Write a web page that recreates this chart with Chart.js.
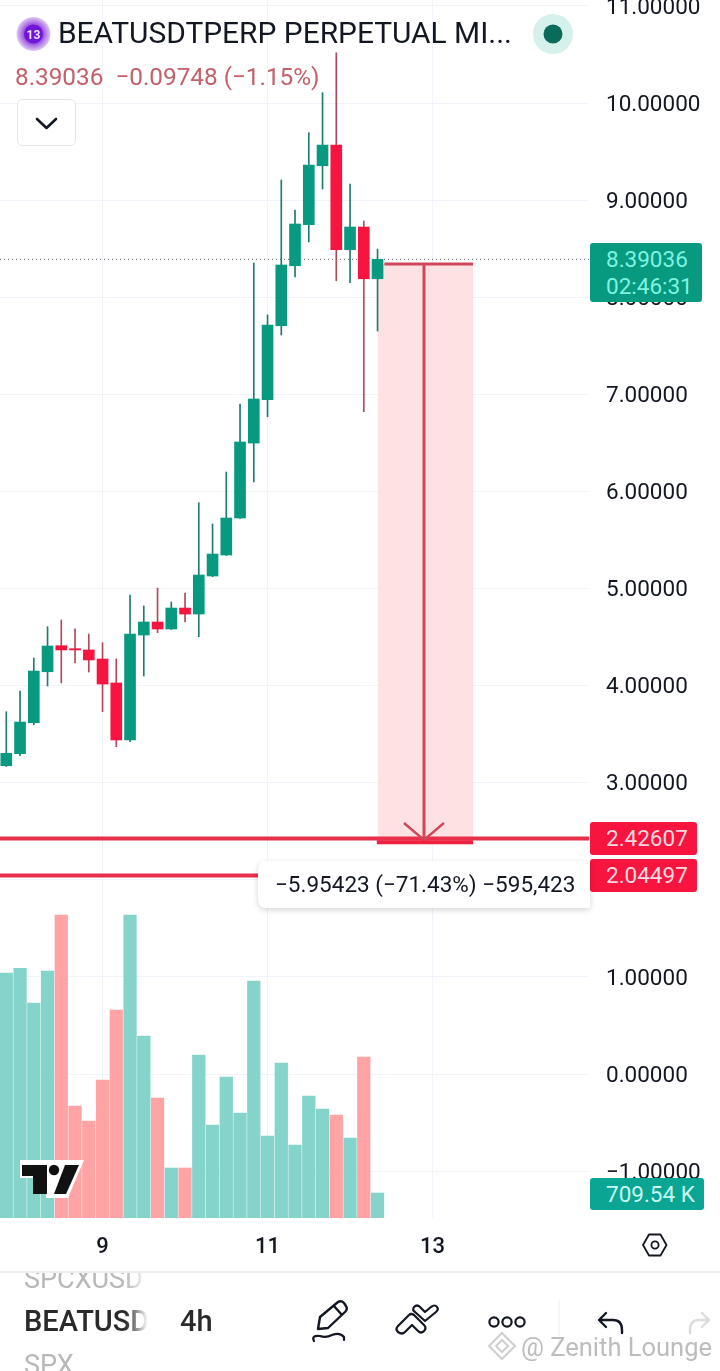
<!DOCTYPE html>
<html>
<head>
<meta charset="utf-8">
<script src="https://cdn.jsdelivr.net/npm/chart.js@4"></script>
<style>
html,body{margin:0;padding:0;background:#fff;width:720px;height:1371px;overflow:hidden;font-family:Roboto,sans-serif;color:#131722}
#wrap{position:absolute;left:0;top:0;width:720px;height:1272px}
canvas{display:block}
.t{position:absolute;white-space:nowrap;line-height:1}
.tag{position:absolute;left:590px;border-radius:3px;color:#fff;text-align:left;box-sizing:border-box;padding-left:16px}
#icons{position:absolute;left:0;top:0}
</style>
</head>
<body>
<div id="wrap"><canvas id="c" width="720" height="1272"></canvas></div>

<svg id="icons" width="720" height="1371" viewBox="0 0 720 1371" fill="none">
  <defs><radialGradient id="g"><stop offset="0.55" stop-color="#9a4fe0"/><stop offset="1" stop-color="#e0c8f5"/></radialGradient></defs>
  <circle cx="33.5" cy="34" r="17" fill="url(#g)"/>
  <circle cx="33.5" cy="34" r="9.5" fill="#6f16d8"/>
  <text x="33.5" y="38.5" text-anchor="middle" font-family="Roboto" font-size="12" font-weight="700" fill="#efe3ff">13</text>
  <circle cx="553" cy="34" r="20" fill="#d6f0ec"/>
  <circle cx="553" cy="34" r="9.5" fill="#0b6b5a"/>
  <rect x="17.5" y="99.5" width="58" height="46" rx="5" fill="#fff" stroke="#e3e4e8"/>
  <path d="M37 119 L46.5 128 L56 119" stroke="#131722" stroke-width="2.6" stroke-linecap="round" stroke-linejoin="round"/>
  <path d="M20 1160 H84 L68 1198 H46 V1178 H20 Z" fill="#fff"/>
  <path d="M22 1165 H47 V1194 H33 V1176 H22 Z" fill="#111"/>
  <circle cx="54" cy="1170" r="5.2" fill="#111"/>
  <path d="M65 1165 H79 L66 1194 H54 Z" fill="#111"/>
  <path d="M643 1245 L649 1234.5 H660.5 L666.5 1245 L660.5 1255.5 H649 Z" stroke="#131722" stroke-width="1.8" stroke-linejoin="round"/>
  <circle cx="655" cy="1245" r="3.6" stroke="#131722" stroke-width="1.8"/>
  <rect x="0" y="1271" width="720" height="2" fill="#eeeeee"/>
  <rect x="558.5" y="1300" width="1" height="46" fill="#eeeeee"/>
  <path d="M318 1329 L320 1317 L338 1302 Q341 1300 344 1303 L346 1306 Q348 1309 345 1312 L328 1328 Z M334 1306 L342 1315" stroke="#131722" stroke-width="2.4" stroke-linejoin="round"/>
  <path d="M314 1341 Q311 1335 320 1336 Q326 1338 332 1335 Q340 1332 344 1337 L344 1340" stroke="#131722" stroke-width="2.2" stroke-linecap="round"/>
  <path d="M398 1326 L409 1315 Q411 1313 414 1315 L424 1325 Q427 1328 424 1331 Q421 1334 418 1331 L412 1325 L405 1332 Q402 1335 398 1332 Q395 1329 398 1326 Z" stroke="#131722" stroke-width="2.2" stroke-linejoin="round"/>
  <path d="M415 1312 L425 1321 L436 1312 Q439 1309 437 1307 Q435 1304 431 1307 L425 1312 L420 1307 Q417 1304 414 1307 Q412 1310 415 1312 Z" stroke="#131722" stroke-width="2.2" stroke-linejoin="round"/>
  <circle cx="494" cy="1322" r="4.6" stroke="#131722" stroke-width="2.2"/>
  <circle cx="507" cy="1322" r="4.6" stroke="#131722" stroke-width="2.2"/>
  <circle cx="520" cy="1322" r="4.6" stroke="#131722" stroke-width="2.2"/>
  <path d="M606 1313 L599 1320 L606 1327 M600 1320 H613 Q622 1320 622 1330 V1333" stroke="#131722" stroke-width="2.4" stroke-linecap="round" stroke-linejoin="round"/>
  <path d="M702 1313 L709 1320 L702 1327 M708 1320 H699 Q690 1320 690 1330 V1333" stroke="#dcdcdc" stroke-width="2.4" stroke-linecap="round" stroke-linejoin="round"/>
  <path d="M502 1333 L515 1346 L502 1359 L489 1346 Z M502 1340 L508 1346 L502 1352 L496 1346 Z" stroke="#cfcfcf" stroke-width="2"/>
</svg>

<div class="t" style="left:58px;top:18px;font-size:29.9px;width:460px;overflow:hidden">BEATUSDTPERP PERPETUAL MI...</div>
<div class="t" style="left:15px;top:65px;font-size:24.3px;color:#c4606a;white-space:pre">8.39036  −0.09748 (−1.15%)</div>

<div class="tag" style="top:243px;width:112px;height:59px;background:#089981;color:#7ff3e0;font-size:22.5px;line-height:27px;padding-top:3px">8.39036<br>02:46:31</div>
<div class="tag" style="top:822px;width:107px;height:33px;background:#f7143f;color:#ffd9df;font-size:22.5px;line-height:33px">2.42607</div>
<div class="tag" style="top:859px;width:107px;height:33px;background:#f7143f;color:#ffd9df;font-size:22.5px;line-height:33px">2.04497</div>
<div class="tag" style="top:1178px;width:114px;height:32px;background:#0ba593;color:#c8fbf2;font-size:22.5px;line-height:32px">709.54 K</div>

<div class="t" style="left:258px;top:861px;width:332px;height:47px;background:#fff;border-radius:8px 0 0 8px;box-shadow:0 2px 6px rgba(0,0,0,.16);font-size:22.5px;line-height:47px;text-indent:17px">−5.95423 (−71.43%) −595,423</div>

<div class="t" style="left:24px;top:1273px;height:17px;width:126px;overflow:hidden;color:#b8b8b8;font-size:27px;line-height:13px;-webkit-mask-image:linear-gradient(90deg,#000 80%,transparent)">SPCXUSD</div>
<div class="t" style="left:24px;top:1307px;width:124px;overflow:hidden;font-size:29px;font-weight:500;color:#2a2a2a;-webkit-mask-image:linear-gradient(90deg,#000 82%,transparent)">BEATUSDT</div>
<div class="t" style="left:180px;top:1307px;font-size:29px;font-weight:500;color:#2a2a2a">4h</div>
<div class="t" style="left:24px;top:1352px;height:19px;overflow:hidden;color:#b8b8b8;font-size:27px">SPX</div>
<div class="t" style="left:521px;top:1335px;font-size:25.5px;color:#bdbdbd">@ Zenith Lounge</div>

<script>
// ---- series (4h candles) ----
const candleIndex = [0,1,2,3,4,5,6,7,8,9,10,11,12,13,14,15,16,17,18,19,20,21,22,23,24,25,26,27];
const opens  = [3.175,3.299,3.618,4.143,4.411,4.380,4.367,4.274,4.027,3.440,4.521,4.655,4.583,4.799,4.737,5.129,5.345,5.726,6.498,6.945,7.706,8.324,8.747,9.354,9.567,8.489,8.723,8.190];
const closes = [3.303,3.625,4.150,4.408,4.367,4.367,4.264,4.016,3.440,4.531,4.655,4.583,4.799,4.737,5.139,5.355,5.726,6.509,6.952,7.714,8.332,8.754,9.361,9.567,8.489,8.723,8.190,8.390];
const highs  = [3.731,3.944,4.284,4.607,4.676,4.586,4.531,4.442,4.274,4.933,4.820,5.005,4.861,4.954,5.884,5.664,6.200,6.900,8.352,7.817,9.207,8.898,9.694,10.106,10.518,9.166,8.785,8.496];
const lows   = [3.167,3.278,3.597,3.996,4.027,4.233,4.140,3.731,3.371,3.422,4.099,4.545,4.578,4.655,4.504,5.122,5.340,5.721,6.097,6.769,7.611,8.208,8.569,9.114,8.170,8.149,6.821,7.652];
const volumesK = [6953,7086,6102,7010,8599,3179,2753,3916,5903,8599,5165,3406,1419,1419,4626,2639,4002,2980,6726,2327,4399,2072,3462,3093,2923,2270,4569,709.54];
const volumeRising = [1,1,1,1,0,0,0,0,0,1,1,0,1,0,1,1,1,1,1,1,1,1,1,1,0,1,0,1];

const priceTickValues = [11,10,9,8,7,6,5,4,3,2,1,0,-1];
const dayTickIndex = [7,19,31];
const dayTickLabels = ['9','11','13'];

const lastPrice = 8.39036;
const targetLevel = 2.42607;
const stopLevel = 2.04497;
const measureTop = 8.342;
const measureBottom = 2.387;
const measureStart = 27;
const measureLineStart = 27.5;
const measureEnd = 33.95;
const arrowX = 30.38;
const arrowHeadLeftX = 28.92;
const arrowHeadRightX = 31.83;
const arrowHeadTopY = 2.585;
const arrowTipY = 2.41;

const xMin = -0.458, xMax = 42.38;
const yMin = -1.483, yMax = 11.061;
const volMax = 34567;

const GREEN='#089981', RED='#f7143f', WICK_G='#1f7a72', WICK_R='#b04a5a';
const up = candleIndex.map(i => closes[i] >= opens[i]);

function line(points,color,width,order,extra){
  return Object.assign({type:'line',data:points,borderColor:color,borderWidth:width,pointRadius:0,order:order,tension:0,fill:false},extra||{});
}
function noMargins(s){ s.paddingTop=0; s.paddingBottom=0; s.paddingLeft=0; s.paddingRight=0; }

new Chart(document.getElementById('c'),{
  data:{datasets:[
    {type:'bar',label:'Volume',yAxisID:'yv',grouped:false,barThickness:12.6,order:50,
      data:candleIndex.map(i=>({x:i,y:volumesK[i]})),
      backgroundColor:candleIndex.map(i=>volumeRising[i]?'#84d4cc':'#ffa3a5')},
    line([{x:measureStart,y:measureTop},{x:measureEnd,y:measureTop}],'rgba(0,0,0,0)',0,40,
      {fill:{value:measureBottom},backgroundColor:'#fde1e3'}),
    {type:'bar',label:'Wicks',grouped:false,barThickness:1,order:20,
      data:candleIndex.map(i=>({x:i,y:[lows[i],highs[i]]})),
      backgroundColor:candleIndex.map(i=>up[i]?WICK_G:WICK_R)},
    {type:'bar',label:'Bodies',grouped:false,barThickness:11,order:10,
      data:candleIndex.map(i=>({x:i,y:[opens[i],closes[i]]})),
      backgroundColor:candleIndex.map(i=>up[i]?GREEN:RED)},
    line([{x:xMin,y:lastPrice},{x:xMax,y:lastPrice}],'#555b66',1,30,{borderDash:[1,3]}),
    line([{x:xMin,y:targetLevel},{x:xMax,y:targetLevel}],'#e8304c',4,6),
    line([{x:xMin,y:stopLevel},{x:xMax,y:stopLevel}],'#e8304c',4,6),
    line([{x:measureStart-0.05,y:measureBottom},{x:measureEnd,y:measureBottom}],'#f0203f',4,5),
    line([{x:measureLineStart,y:measureTop},{x:measureEnd,y:measureTop}],'#d0475a',3,5),
    line([{x:arrowX,y:measureTop},{x:arrowX,y:arrowTipY}],'#d0475a',3,5),
    line([{x:arrowHeadLeftX,y:arrowHeadTopY},{x:arrowX,y:arrowTipY},{x:arrowHeadRightX,y:arrowHeadTopY}],'#d0475a',2.4,5)
  ]},
  options:{
    responsive:false,animation:false,
    layout:{padding:0},
    plugins:{legend:{display:false},tooltip:{enabled:false}},
    events:[],
    scales:{
      x:{type:'linear',min:xMin,max:xMax,offset:false,
        afterBuildTicks:s=>{s.ticks=dayTickIndex.map(v=>({value:v}));},
        afterFit:s=>{s.height=54;noMargins(s);},
        grid:{color:'#f0f3fa',drawTicks:false,lineWidth:1,offset:false},
        border:{display:false},
        ticks:{padding:16,maxRotation:0,autoSkip:false,color:'#131722',font:{family:'Roboto',size:22,weight:'500'},
          callback:v=>dayTickLabels[dayTickIndex.indexOf(v)]}
      },
      y:{type:'linear',position:'right',min:yMin,max:yMax,
        afterBuildTicks:s=>{s.ticks=priceTickValues.map(v=>({value:v}));},
        afterFit:s=>{s.width=131;noMargins(s);},
        grid:{color:'#f0f3fa',drawTicks:false,lineWidth:1},
        border:{display:false},
        ticks:{padding:17,labelOffset:2,autoSkip:false,color:'#131722',font:{family:'Roboto',size:22.5},
          callback:v=>v<0?'−'+Math.abs(v).toFixed(5):v.toFixed(5)}
      },
      yv:{type:'linear',display:false,min:0,max:volMax}
    }
  }
});
</script>
</body>
</html>
